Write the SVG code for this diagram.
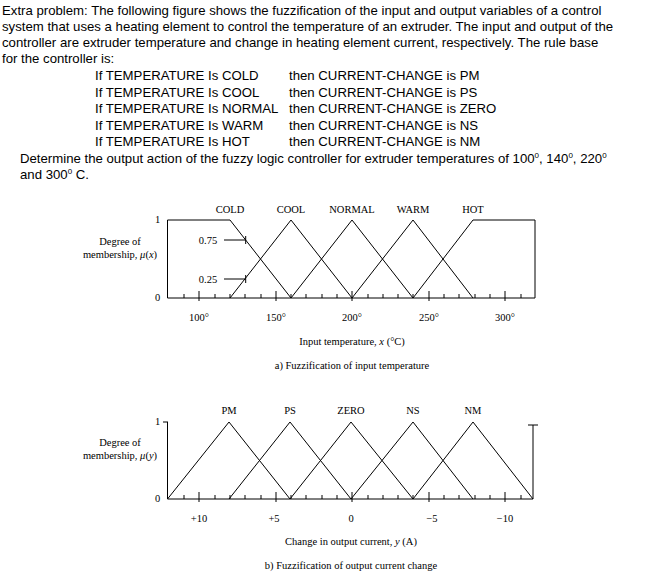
<svg xmlns="http://www.w3.org/2000/svg" width="649" height="584" viewBox="0 0 649 584">
<style>
.t{font-family:"Liberation Sans",Arial,sans-serif;font-size:13.2px;fill:#000}
.s{font-family:"Liberation Serif","Times New Roman",serif;font-size:10.5px;fill:#000}
.c{text-anchor:middle}
.l{fill:none;stroke:#000;stroke-width:1}
</style>
<rect width="649" height="584" fill="#fff"/>
<g id="problem">
<text class="t" x="2" y="15">Extra problem: The following figure shows the fuzzification of the input and output variables of a control</text>
<text class="t" x="2" y="31">system that uses a heating element to control the temperature of an extruder.  The input and output of the</text>
<text class="t" x="2" y="47">controller are extruder temperature and change in heating element current, respectively.  The rule base</text>
<text class="t" x="2" y="63">for the controller is:</text>
<text class="t" x="95" y="80">If TEMPERATURE Is COLD</text><text class="t" x="289" y="80">then CURRENT-CHANGE is PM</text>
<text class="t" x="95" y="97">If TEMPERATURE Is COOL</text><text class="t" x="289" y="97">then CURRENT-CHANGE is PS</text>
<text class="t" x="95" y="113">If TEMPERATURE Is NORMAL</text><text class="t" x="289" y="113">then CURRENT-CHANGE is ZERO</text>
<text class="t" x="95" y="130">If TEMPERATURE Is WARM</text><text class="t" x="289" y="130">then CURRENT-CHANGE is NS</text>
<text class="t" x="95" y="146">If TEMPERATURE Is HOT</text><text class="t" x="289" y="146">then CURRENT-CHANGE is NM</text>
<text class="t" x="20" y="163">Determine the output action of the fuzzy logic controller for extruder temperatures of 100<tspan font-size="8" dy="-5">0</tspan><tspan dy="5">, 140</tspan><tspan font-size="8" dy="-5">0</tspan><tspan dy="5">, 220</tspan><tspan font-size="8" dy="-5">0</tspan></text>
<text class="t" x="20" y="179">and 300<tspan font-size="8" dy="-5">0</tspan><tspan dy="5"> C.</tspan></text>
</g>
<g id="input-chart">
<path class="l" d="M167.5,298V220H230L291,298L352,220L413,298M230,298L291,220L352,298L413,220L473,298M413,298L473,220H535V298H167.5"/>
<path class="l" d="M184,298v-4M199,301v-10M215,298v-4M230,298v-4M245,298v-4M261,298v-4M276,301v-10M291,298v-4M306,298v-4M322,298v-4M337,298v-4M352,301v-10M368,298v-4M383,298v-4M398,298v-4M413,298v-4M429,301v-10M444,298v-4M459,298v-4M475,298v-4M490,298v-4M505,301v-10M521,298v-4"/>
<path class="l" d="M224,240H245.7M245.7,236v8M224,279H245.7M245.7,275v8"/>
<text class="s" x="155" y="223">1</text><text class="s" x="155" y="301">0</text>
<text class="s" x="208" y="244" text-anchor="middle">0.75</text>
<text class="s" x="208" y="283" text-anchor="middle">0.25</text>
<text class="s c" x="120" y="245">Degree of</text><text class="s c" x="120" y="258">membership, <tspan font-style="italic">μ</tspan>(<tspan font-style="italic">x</tspan>)</text>
<text class="s c" x="230" y="213">COLD</text><text class="s c" x="291" y="213">COOL</text><text class="s c" x="352" y="213">NORMAL</text><text class="s c" x="413" y="213">WARM</text><text class="s c" x="473" y="213">HOT</text>
<text class="s c" x="199" y="321">100°</text><text class="s c" x="276" y="321">150°</text><text class="s c" x="352" y="321">200°</text><text class="s c" x="429" y="321">250°</text><text class="s c" x="505" y="321">300°</text>
<text class="s c" x="352" y="345">Input temperature, <tspan font-style="italic">x</tspan> (°C)</text>
<text class="s c" x="352" y="369">a) Fuzzification of input temperature</text>
</g>
<g id="output-chart">
<path class="l" d="M167.5,499V422M163,422h5M533,499V425M528,425h10M167.5,499H533"/>
<path class="l" d="M167.5,499L229,422L290,499L351,422L413,499L473,422L533,499M229,499L290,422L351,499L413,422L473,499"/>
<path class="l" d="M184,499v-4M199,502v-10M215,499v-4M230,499v-4M245,499v-4M261,499v-4M276,502v-10M291,499v-4M306,499v-4M322,499v-4M337,499v-4M352,502v-10M368,499v-4M383,499v-4M398,499v-4M413,499v-4M429,502v-10M444,499v-4M459,499v-4M475,499v-4M490,499v-4M505,502v-10M521,499v-4"/>
<text class="s" x="155" y="425">1</text><text class="s" x="155" y="502">0</text>
<text class="s c" x="120" y="446">Degree of</text><text class="s c" x="120" y="459">membership, <tspan font-style="italic">μ</tspan>(<tspan font-style="italic">y</tspan>)</text>
<text class="s c" x="229" y="414">PM</text><text class="s c" x="290" y="414">PS</text><text class="s c" x="351" y="414">ZERO</text><text class="s c" x="413" y="414">NS</text><text class="s c" x="473" y="414">NM</text>
<text class="s c" x="199" y="522">+10</text><text class="s c" x="274" y="522">+5</text><text class="s c" x="351" y="522">0</text><text class="s c" x="432" y="522">−5</text><text class="s c" x="505" y="522">−10</text>
<text class="s c" x="351" y="545">Change in output current, <tspan font-style="italic">y</tspan> (A)</text>
<text class="s c" x="351" y="569">b) Fuzzification of output current change</text>
</g>
</svg>
